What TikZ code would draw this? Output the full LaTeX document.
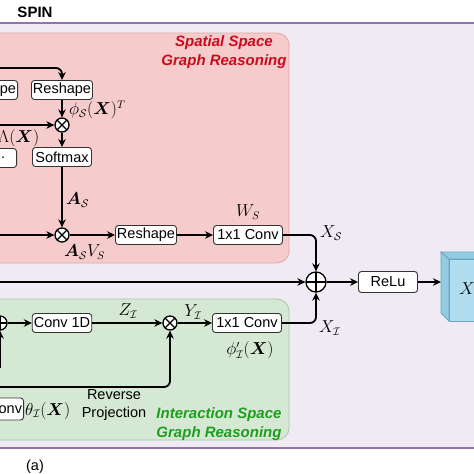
\documentclass[tikz,border=0pt]{standalone}
\usepackage{fontspec}
\setmainfont{Liberation Sans}
\usepackage{amsmath}
\usetikzlibrary{arrows.meta,calc}
\definecolor{lav}{HTML}{EFEAF3}
\definecolor{purp}{HTML}{9673A6}
\definecolor{pinkf}{HTML}{F5CBCB}
\definecolor{pinkd}{HTML}{E3A5A5}
\definecolor{greenf}{HTML}{D5E8D4}
\definecolor{greend}{HTML}{A9CBA2}
\definecolor{redt}{HTML}{CC0A1E}
\definecolor{greent}{HTML}{1E9E1E}
\definecolor{bluef}{HTML}{B1DDF0}
\definecolor{blues}{HTML}{93CBE3}
\definecolor{blued}{HTML}{6AA6C2}
\begin{document}
\begin{tikzpicture}[x=1pt,y=-1pt,
  box/.style={draw=black!80, line width=0.9pt, fill=white, rounded corners=3pt, font=\fontsize{14.5}{16}\selectfont, inner xsep=1.5pt, inner ysep=0pt, minimum height=19pt, minimum width=59pt},
  cbox/.style={box, minimum width=69pt},
  ml/.style={font=\fontsize{16}{18}\selectfont, inner sep=0pt},
  conn/.style={line width=1.8pt, -{Stealth[length=8pt,width=7.5pt]}},
  plain/.style={line width=1.8pt},
  mulop/.style={circle, draw, line width=1.3pt, fill=white, minimum size=14pt, inner sep=0pt, path picture={\draw[line width=1.3pt] (path picture bounding box.north west)--(path picture bounding box.south east) (path picture bounding box.north east)--(path picture bounding box.south west);}},
  addop/.style={circle, draw, line width=1.3pt, fill=white, minimum size=20pt, inner sep=0pt, path picture={\draw[line width=1.3pt] (path picture bounding box.north)--(path picture bounding box.south) (path picture bounding box.west)--(path picture bounding box.east);}},
  ttl/.style={font=\fontsize{15}{18.5}\selectfont\bfseries\itshape, align=center, inner sep=0pt},
  txt/.style={font=\fontsize{14.5}{18}\selectfont, align=center, inner sep=0pt},
]
\useasboundingbox (0,0) rectangle (474,474);
\clip (0,0) rectangle (474,474);

% panel
\fill[lav] (-5,23) rectangle (480,448);
\draw[purp, line width=1.6pt] (-5,23) -- (480,23);
\draw[purp, line width=1.6pt] (-5,448) -- (480,448);
\node[font=\fontsize{15}{18}\selectfont\bfseries, inner sep=0pt] (spin) at (35,12) {SPIN};
\node[txt] (cap) at (35,467) {(a)};

% group boxes
\draw[fill=pinkf, draw=pinkd, line width=0.8pt, rounded corners=12pt] (-30,33) rectangle (289,263);
\draw[fill=greenf, draw=greend, line width=0.8pt, rounded corners=12pt] (-30,299) rectangle (289,440);
\node[ttl, text=redt] (sttl) at (224,52) {Spatial Space\\Graph Reasoning};
\node[ttl, text=greent] (ittl) at (219,424) {Interaction Space\\Graph Reasoning};

% spatial branch
\coordinate (tin) at (-2,68);
\coordinate (lin1) at (-2,125);
\coordinate (lin2) at (-2,235);
\coordinate (lin3) at (-2,282);
\node[box, anchor=east] (rs0) at (18,90) {Reshape};
\node[box] (rs1) at (62,90) {Reshape};
\node[mulop] (m1) at (62,125) {};
\node[ml, anchor=west] (phis) at (69,110) {$\phi_{\mathcal{S}}(\boldsymbol{X})^T$};
\node[ml, anchor=west] (lam) at (-2,138) {$\Lambda(\boldsymbol{X})$};
\node[box] (sm) at (62,157) {Softmax};
\node[box, anchor=east] (bl) at (17,158) {\hspace*{40pt}.\hspace*{8pt}};
\node[mulop] (m2) at (62,235) {};
\node[ml, anchor=west] (as) at (66,200) {$\boldsymbol{A}_{\mathcal{S}}$};
\node[ml, anchor=west] (asvs) at (64,252) {$\boldsymbol{A}_{\mathcal{S}}V_S$};
\node[box] (rs2) at (146,235) {Reshape};
\node[cbox] (cv1) at (248,235) {1x1 Conv};
\node[ml] (ws) at (248,212) {$W_S$};

\node[addop] (add) at (316,282) {};
\node[ml, anchor=west] (xs) at (320,233) {$X_{\mathcal{S}}$};
\node[box, minimum height=21pt] (relu) at (388,282) {ReLu};

% output cuboid
\filldraw[fill=blues, draw=blued, line width=0.8pt] (441,252) -- (449,259) -- (449,321) -- (441,313) -- cycle;
\filldraw[fill=blues, draw=blued, line width=0.8pt] (441,252) -- (480,252) -- (480,259) -- (449,259) -- cycle;
\filldraw[fill=bluef, draw=blued, line width=0.8pt] (449,259) rectangle (480,321);
\node[ml, font=\fontsize{17}{19}\selectfont] (xo) at (467,289) {$X$};
\coordinate (cubeL) at (441,282);

% interaction branch
\node[addop, minimum size=14pt] (c0) at (0,323) {};
\coordinate (lin5) at (0,368);
\node[box] (cv1d) at (62,323) {Conv 1D};
\node[ml] (zi) at (128,311) {$Z_{\mathcal{I}}$};
\node[mulop] (m3) at (170,323) {};
\node[ml] (yi) at (193,312) {$Y_{\mathcal{I}}$};
\node[cbox] (cv2) at (247,323) {1x1 Conv};
\node[ml] (phii) at (250,350) {$\phi'_{\mathcal{I}}(\boldsymbol{X})$};
\node[ml, anchor=west] (xi) at (319,328) {$X_{\mathcal{I}}$};
\coordinate (lin4) at (-2,387);
\node[box, anchor=east, minimum height=22pt] (cv0) at (24,409) {1x1 Conv};
\node[ml, anchor=west] (thi) at (25,411) {$\theta_{\mathcal{I}}(\boldsymbol{X})$};
\node[txt] (rp) at (114,405) {Reverse\\Projection};

% connectors
\draw[conn, rounded corners=6pt] (tin) -| (rs1.north);
\draw[conn] (rs1) -- (m1);
\draw[conn] (lin1) -- (m1);
\draw[conn] (m1) -- (sm);
\draw[conn] (sm) -- (m2);
\draw[conn] (lin2) -- (m2);
\draw[conn] (m2) -- (rs2);
\draw[conn] (rs2) -- (cv1);
\draw[conn, rounded corners=6pt] (cv1.east) -| (add.north);
\draw[conn] (lin3) -- (add);
\draw[conn] (add) -- (relu);
\draw[conn] (relu) -- (cubeL);
\draw[conn, rounded corners=6pt] (cv2.east) -| (add.south);
\draw[conn] (lin5) -- (c0);
\draw[conn] (c0) -- (cv1d);
\draw[conn] (cv1d) -- (m3);
\draw[conn] (m3) -- (cv2);
\draw[conn, rounded corners=6pt] (lin4) -| (m3.south);
\end{tikzpicture}
\end{document}
